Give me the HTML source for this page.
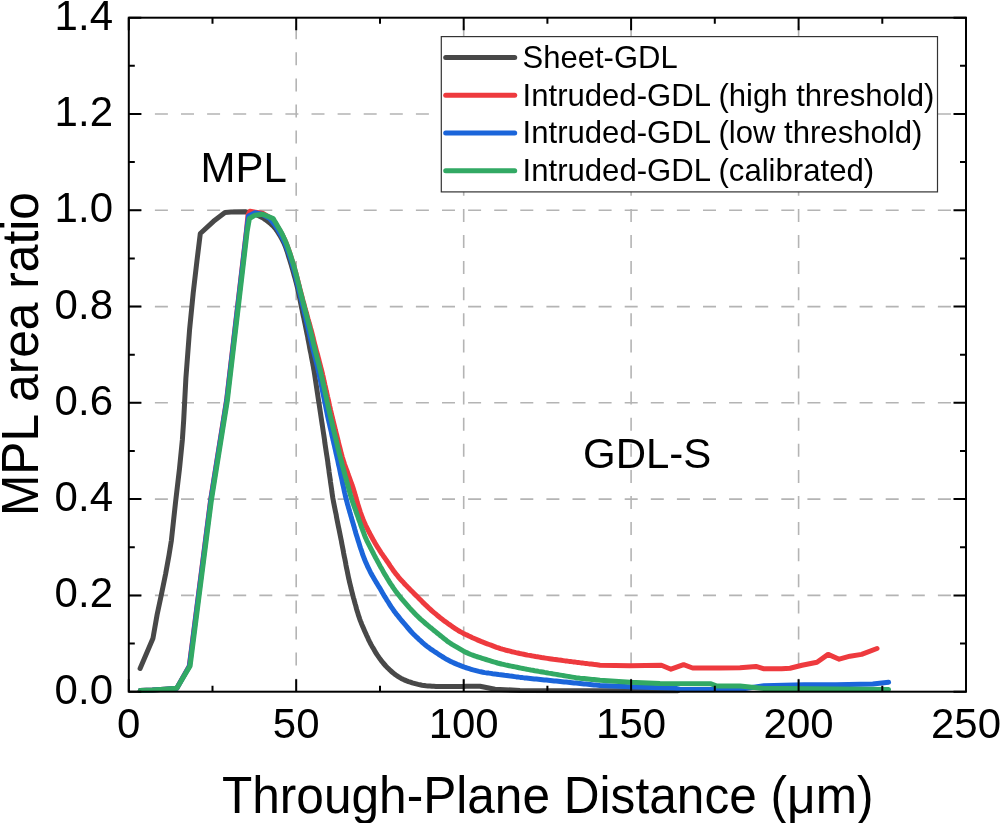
<!DOCTYPE html><html><head><meta charset="utf-8"><title>MPL area ratio</title><style>html,body{margin:0;padding:0;background:#fff;}svg{display:block;}</style></head><body>
<svg width="1000" height="823" viewBox="0 0 1000 823" font-family="'Liberation Sans', Arial, sans-serif">
<rect width="1000" height="823" fill="#fff"/>
<text x="200.5" y="181.8" font-size="43.26" textLength="86.36" lengthAdjust="spacingAndGlyphs">MPL</text>
<text x="583.0" y="468.2" font-size="43.26" textLength="128.36" lengthAdjust="spacingAndGlyphs">GDL-S</text>
<g stroke="#b4b4b4" stroke-width="1.6" stroke-dasharray="13 13.1" fill="none"><path d="M296.2 691.7V17.7"/><path d="M463.7 691.7V17.7"/><path d="M631.1 691.7V17.7"/><path d="M798.6 691.7V17.7"/><path d="M128.8 595.4H966.0"/><path d="M128.8 499.1H966.0"/><path d="M128.8 402.8H966.0"/><path d="M128.8 306.6H966.0"/><path d="M128.8 210.3H966.0"/><path d="M128.8 114.0H966.0"/></g>
<polyline points="140.1,668.4 152.9,638.6 157.1,614.8 161.4,594.4 165.6,574.0 169.0,555.3 171.4,540.3 175.6,501.7 179.5,468.6 182.4,439.5 183.7,420.0 185.9,378.0 189.6,329.4 193.2,292.9 196.9,261.3 200.3,233.5 213.5,221.3 225.0,212.4 231.0,212.0 246.0,211.8 251.0,213.2 256.0,214.6 262.0,217.4 263.7,218.5 265.3,219.6 266.9,220.8 268.5,222.0 270.1,223.2 271.6,224.6 273.0,225.9 274.3,227.4 275.6,228.9 276.7,230.5 277.8,232.2 278.9,233.9 279.9,235.6 280.9,237.3 281.9,239.1 282.8,240.8 283.7,242.6 284.5,244.4 285.3,246.3 286.0,248.2 286.6,250.1 287.3,252.0 287.9,253.9 288.4,255.8 289.0,257.7 289.6,259.6 290.2,261.5 290.8,263.4 291.4,265.4 291.9,267.3 292.5,269.2 293.0,271.1 293.6,273.1 294.1,275.0 294.6,276.9 295.2,278.9 295.7,280.8 296.2,282.7 296.7,284.7 297.2,286.6 297.7,288.6 298.1,290.5 298.5,292.5 298.9,294.4 299.3,296.4 299.7,298.3 300.1,300.3 300.5,302.3 300.9,304.2 301.3,306.2 301.7,308.2 302.1,310.1 302.5,312.1 302.9,314.1 303.3,316.0 303.8,318.0 304.2,319.9 304.6,321.9 305.0,323.8 305.4,325.8 305.8,327.8 306.2,329.7 306.6,331.7 307.0,333.7 307.4,335.6 307.8,337.6 308.1,339.6 308.5,341.5 308.9,343.5 309.3,345.5 309.6,347.4 310.0,349.4 310.4,351.4 310.8,353.3 311.2,355.3 311.5,357.3 311.9,359.2 312.3,361.2 312.7,363.2 313.0,365.1 313.4,367.1 313.7,369.1 314.1,371.1 314.4,373.0 314.7,375.0 315.0,377.0 315.3,379.0 315.6,381.0 315.9,382.9 316.2,384.9 316.5,386.9 316.8,388.9 317.1,390.9 317.4,392.8 317.7,394.8 318.0,396.8 318.3,398.8 318.6,400.8 318.9,402.7 319.2,404.7 319.5,406.7 319.8,408.7 320.1,410.7 320.4,412.6 320.7,414.6 321.0,416.6 321.3,418.6 321.6,420.6 321.9,422.6 322.2,424.5 322.5,426.5 322.8,428.5 323.1,430.5 323.4,432.5 323.7,434.4 324.0,436.4 324.3,438.4 324.6,440.4 324.8,442.4 325.1,444.4 325.4,446.3 325.7,448.3 326.0,450.3 326.3,452.3 326.6,454.3 326.9,456.2 327.2,458.2 327.5,460.2 327.8,462.2 328.0,464.2 328.3,466.2 328.6,468.1 328.9,470.1 329.1,472.1 329.4,474.1 329.7,476.1 330.0,478.1 330.3,480.0 330.5,482.0 330.8,484.0 331.1,486.0 331.4,488.0 331.7,490.0 331.9,491.9 332.2,493.9 332.5,495.9 332.8,497.9 333.2,499.9 333.5,501.8 333.9,503.8 334.3,505.8 334.7,507.7 335.1,509.7 335.5,511.7 335.9,513.6 336.3,515.6 336.6,517.6 337.0,519.5 337.4,521.5 337.8,523.4 338.2,525.4 338.6,527.4 339.0,529.3 339.4,531.3 339.8,533.3 340.2,535.2 340.6,537.2 341.0,539.2 341.4,541.1 341.7,543.1 342.1,545.1 342.5,547.0 342.9,549.0 343.3,551.0 343.6,552.9 344.0,554.9 344.4,556.9 344.8,558.8 345.2,560.8 345.6,562.8 345.9,564.7 346.3,566.7 346.7,568.7 347.1,570.6 347.5,572.6 347.9,574.6 348.3,576.5 348.7,578.5 349.2,580.4 349.6,582.4 350.1,584.3 350.6,586.3 351.0,588.2 351.5,590.1 352.0,592.1 352.5,594.0 353.0,596.0 353.5,597.9 354.1,599.8 354.6,601.8 355.1,603.7 355.7,605.6 356.2,607.6 356.7,609.5 357.3,611.4 357.9,613.3 358.4,615.2 359.1,617.1 359.7,619.0 360.4,620.9 361.2,622.8 361.9,624.6 362.7,626.5 363.5,628.3 364.3,630.2 365.1,632.0 365.9,633.8 366.7,635.6 367.6,637.4 368.4,639.3 369.3,641.1 370.2,642.8 371.1,644.6 372.1,646.4 373.1,648.1 374.1,649.8 375.1,651.6 376.2,653.3 377.2,654.9 378.4,656.6 379.5,658.2 380.7,659.8 381.9,661.4 383.2,663.0 384.5,664.5 385.8,666.0 387.2,667.4 388.6,668.8 390.0,670.2 391.5,671.5 393.0,672.8 394.6,674.1 396.2,675.2 397.9,676.4 399.5,677.4 401.2,678.4 403.0,679.3 404.8,680.1 406.7,680.9 408.5,681.6 410.4,682.2 412.3,682.9 414.2,683.4 416.2,683.9 418.1,684.4 420.0,684.8 422.0,685.2 424.0,685.5 426.0,685.8 428.0,686.0 429.9,686.1 431.9,686.3 433.9,686.3 435.9,686.4 437.9,686.4 439.9,686.4 441.9,686.4 443.9,686.4 445.9,686.4 447.9,686.4 450.0,686.4 452.0,686.4 454.0,686.4 456.0,686.4 458.0,686.4 460.0,686.4 462.0,686.4 464.0,686.4 466.0,686.3 468.0,686.3 470.0,686.3 472.0,686.3 474.0,686.3 476.0,686.2 478.0,686.2 480.0,686.2 495.0,689.2 520.0,690.5 678.0,690.8" fill="none" stroke="#484848" stroke-width="5" stroke-linejoin="round" stroke-linecap="round"/>
<polyline points="140.2,690.5 152.4,690.0 164.6,689.2 176.8,688.2 189.3,665.9 204.7,546.0 210.6,500.0 226.6,400.0 246.4,231.0 248.0,215.0 250.0,211.3 262.5,213.2 273.0,219.4 274.1,221.1 275.1,222.8 276.2,224.5 277.2,226.2 278.3,227.9 279.3,229.6 280.3,231.3 281.3,233.1 282.3,234.8 283.2,236.6 284.1,238.4 284.9,240.2 285.7,242.0 286.5,243.9 287.2,245.7 287.9,247.6 288.6,249.5 289.2,251.4 289.9,253.3 290.5,255.2 291.1,257.1 291.7,259.0 292.3,260.9 292.9,262.8 293.5,264.8 294.0,266.7 294.6,268.6 295.1,270.5 295.7,272.5 296.2,274.4 296.7,276.3 297.2,278.3 297.7,280.2 298.2,282.2 298.7,284.1 299.2,286.0 299.7,288.0 300.2,289.9 300.7,291.9 301.2,293.8 301.7,295.7 302.2,297.7 302.7,299.6 303.2,301.5 303.8,303.5 304.3,305.4 304.8,307.3 305.3,309.3 305.9,311.2 306.4,313.1 307.0,315.0 307.5,317.0 308.0,318.9 308.6,320.8 309.1,322.8 309.7,324.7 310.2,326.6 310.7,328.5 311.3,330.5 311.8,332.4 312.3,334.4 312.8,336.3 313.3,338.2 313.7,340.2 314.2,342.1 314.7,344.1 315.2,346.0 315.7,347.9 316.2,349.9 316.7,351.8 317.3,353.7 317.8,355.7 318.3,357.6 318.8,359.5 319.3,361.5 319.8,363.4 320.3,365.4 320.8,367.3 321.3,369.2 321.8,371.2 322.3,373.1 322.7,375.1 323.2,377.0 323.6,379.0 324.0,380.9 324.5,382.9 324.9,384.8 325.4,386.8 325.8,388.8 326.2,390.7 326.7,392.7 327.1,394.6 327.5,396.6 328.0,398.5 328.4,400.5 328.9,402.4 329.3,404.4 329.7,406.3 330.2,408.3 330.6,410.3 331.1,412.2 331.5,414.2 332.0,416.1 332.5,418.0 332.9,420.0 333.4,421.9 333.9,423.9 334.4,425.8 334.9,427.8 335.3,429.7 335.8,431.7 336.3,433.6 336.8,435.5 337.3,437.5 337.8,439.4 338.2,441.4 338.7,443.3 339.2,445.3 339.7,447.2 340.2,449.1 340.7,451.1 341.1,453.0 341.7,455.0 342.2,456.9 342.8,458.8 343.4,460.7 344.0,462.6 344.6,464.5 345.3,466.4 346.0,468.3 346.7,470.2 347.4,472.0 348.0,473.9 348.7,475.8 349.4,477.7 350.1,479.6 350.8,481.5 351.5,483.3 352.1,485.2 352.8,487.1 353.4,489.0 354.0,490.9 354.6,492.8 355.1,494.8 355.7,496.7 356.2,498.6 356.8,500.5 357.3,502.5 357.9,504.4 358.5,506.3 359.1,508.2 359.7,510.1 360.3,512.0 361.0,513.9 361.7,515.8 362.4,517.7 363.1,519.5 363.9,521.4 364.7,523.2 365.5,525.0 366.4,526.8 367.3,528.6 368.2,530.4 369.1,532.1 370.0,533.9 371.0,535.7 371.9,537.4 372.9,539.2 373.9,540.9 374.9,542.7 375.9,544.4 376.9,546.1 378.0,547.8 379.1,549.5 380.1,551.2 381.2,552.9 382.4,554.5 383.5,556.2 384.7,557.8 385.8,559.4 386.9,561.1 388.1,562.7 389.2,564.4 390.3,566.1 391.4,567.7 392.6,569.4 393.7,571.0 394.9,572.6 396.1,574.2 397.4,575.7 398.7,577.3 400.0,578.8 401.3,580.3 402.7,581.7 404.0,583.2 405.4,584.7 406.8,586.1 408.2,587.6 409.6,589.0 411.0,590.4 412.4,591.8 413.8,593.2 415.2,594.7 416.7,596.1 418.1,597.5 419.5,598.9 420.9,600.3 422.3,601.7 423.7,603.2 425.2,604.6 426.6,605.9 428.1,607.3 429.5,608.7 431.0,610.0 432.5,611.3 434.0,612.6 435.6,613.9 437.1,615.2 438.7,616.5 440.2,617.7 441.8,618.9 443.4,620.2 445.0,621.4 446.6,622.5 448.2,623.7 449.9,624.9 451.5,626.0 453.1,627.2 454.8,628.3 456.5,629.4 458.2,630.5 459.9,631.5 461.6,632.4 463.4,633.4 465.2,634.3 467.0,635.1 468.8,636.0 470.6,636.8 472.4,637.7 474.3,638.5 476.1,639.3 477.9,640.1 479.8,640.9 481.6,641.7 483.5,642.4 485.3,643.1 487.2,643.8 489.1,644.5 491.0,645.2 492.8,645.9 494.7,646.6 496.6,647.3 498.5,647.9 500.4,648.6 502.3,649.2 504.2,649.7 506.1,650.3 508.1,650.7 510.0,651.2 512.0,651.7 513.9,652.1 515.9,652.6 517.8,653.0 519.8,653.5 521.7,653.9 523.7,654.3 525.7,654.7 527.6,655.1 529.6,655.4 531.6,655.8 533.5,656.1 535.5,656.5 537.5,656.8 539.5,657.1 541.4,657.5 543.4,657.8 545.4,658.1 547.4,658.4 549.4,658.7 551.3,659.0 553.3,659.3 555.3,659.5 557.3,659.8 559.3,660.1 561.3,660.3 563.2,660.6 565.2,660.9 567.2,661.1 569.2,661.4 571.2,661.6 573.2,661.9 575.2,662.1 577.1,662.4 579.1,662.6 581.1,662.9 583.1,663.1 585.1,663.4 587.1,663.6 589.1,663.9 591.1,664.1 593.0,664.3 595.0,664.6 597.0,664.8 600.0,665.2 630.0,665.8 661.4,665.3 671.0,669.2 683.6,664.7 692.6,668.0 720.0,668.0 740.0,667.7 756.0,666.4 764.0,668.8 781.6,668.8 790.0,668.2 802.0,665.2 817.0,662.2 828.1,654.4 839.2,659.2 850.0,656.2 861.6,654.4 877.0,648.5" fill="none" stroke="#ee3a3e" stroke-width="5" stroke-linejoin="round" stroke-linecap="round"/>
<polyline points="140.2,690.5 152.4,690.0 164.6,689.2 176.8,688.2 189.5,665.9 204.9,546.0 210.8,500.0 226.8,400.0 246.6,231.0 248.5,216.0 255.0,212.7 262.5,214.5 269.5,218.3 270.8,219.8 272.1,221.4 273.3,222.9 274.5,224.5 275.6,226.2 276.7,227.8 277.8,229.5 278.8,231.2 279.8,233.0 280.8,234.7 281.7,236.5 282.6,238.2 283.5,240.0 284.4,241.8 285.2,243.7 285.9,245.5 286.6,247.4 287.3,249.3 288.0,251.1 288.7,253.0 289.4,254.9 290.0,256.8 290.6,258.7 291.2,260.6 291.8,262.5 292.4,264.4 292.9,266.4 293.5,268.3 294.0,270.2 294.6,272.1 295.1,274.1 295.6,276.0 296.1,277.9 296.5,279.9 297.0,281.8 297.5,283.8 298.0,285.7 298.5,287.7 298.9,289.6 299.4,291.5 299.9,293.5 300.4,295.4 300.8,297.4 301.3,299.3 301.8,301.3 302.2,303.2 302.7,305.2 303.2,307.1 303.6,309.0 304.1,311.0 304.5,312.9 305.0,314.9 305.5,316.8 305.9,318.8 306.4,320.7 306.8,322.7 307.3,324.6 307.7,326.6 308.2,328.5 308.7,330.5 309.1,332.4 309.6,334.4 310.0,336.3 310.5,338.3 310.9,340.2 311.4,342.2 311.8,344.1 312.3,346.0 312.8,348.0 313.2,349.9 313.7,351.9 314.2,353.8 314.7,355.8 315.2,357.7 315.7,359.6 316.2,361.6 316.6,363.5 317.1,365.5 317.6,367.4 318.0,369.3 318.5,371.3 318.9,373.3 319.3,375.2 319.7,377.2 320.1,379.1 320.5,381.1 320.9,383.1 321.3,385.0 321.7,387.0 322.1,388.9 322.5,390.9 322.9,392.9 323.3,394.8 323.7,396.8 324.1,398.7 324.5,400.7 324.9,402.7 325.3,404.6 325.7,406.6 326.1,408.5 326.5,410.5 326.9,412.5 327.3,414.4 327.7,416.4 328.1,418.3 328.6,420.3 329.0,422.2 329.5,424.2 329.9,426.1 330.4,428.1 330.8,430.0 331.3,432.0 331.7,433.9 332.1,435.9 332.6,437.8 333.0,439.8 333.5,441.7 333.9,443.7 334.4,445.6 334.8,447.6 335.3,449.5 335.7,451.5 336.1,453.4 336.6,455.4 337.0,457.3 337.5,459.3 337.9,461.2 338.3,463.2 338.7,465.2 339.2,467.1 339.6,469.1 340.0,471.0 340.4,473.0 340.8,474.9 341.3,476.9 341.7,478.8 342.1,480.8 342.5,482.8 342.9,484.7 343.4,486.7 343.8,488.6 344.2,490.6 344.6,492.5 345.1,494.5 345.5,496.4 346.0,498.4 346.5,500.3 347.0,502.2 347.5,504.2 348.1,506.1 348.6,508.0 349.2,509.9 349.7,511.9 350.3,513.8 350.8,515.7 351.4,517.6 351.9,519.5 352.5,521.5 353.1,523.4 353.6,525.3 354.2,527.2 354.7,529.2 355.3,531.1 355.8,533.0 356.4,534.9 357.0,536.8 357.6,538.7 358.2,540.7 358.8,542.6 359.4,544.5 360.0,546.4 360.6,548.3 361.3,550.2 361.9,552.1 362.5,554.0 363.2,555.8 363.9,557.7 364.6,559.6 365.4,561.4 366.2,563.3 367.0,565.1 367.8,566.9 368.7,568.7 369.6,570.5 370.5,572.3 371.4,574.0 372.4,575.8 373.4,577.5 374.4,579.2 375.4,580.9 376.4,582.7 377.5,584.4 378.5,586.1 379.6,587.8 380.6,589.5 381.6,591.2 382.6,593.0 383.6,594.7 384.6,596.4 385.7,598.1 386.7,599.8 387.8,601.5 388.9,603.2 389.9,604.9 391.0,606.6 392.1,608.2 393.3,609.9 394.4,611.5 395.6,613.1 396.8,614.7 398.1,616.2 399.4,617.8 400.6,619.3 401.9,620.8 403.2,622.4 404.5,623.9 405.8,625.4 407.1,627.0 408.4,628.5 409.7,630.0 411.0,631.5 412.4,633.0 413.8,634.4 415.2,635.8 416.6,637.2 418.1,638.5 419.5,639.9 421.0,641.2 422.5,642.6 424.0,643.9 425.6,645.2 427.1,646.4 428.7,647.6 430.3,648.8 432.0,649.9 433.6,651.0 435.3,652.1 437.0,653.2 438.6,654.3 440.3,655.4 442.0,656.5 443.7,657.5 445.4,658.6 447.1,659.6 448.9,660.5 450.7,661.4 452.5,662.3 454.3,663.1 456.1,663.9 458.0,664.7 459.8,665.4 461.7,666.1 463.6,666.8 465.4,667.5 467.3,668.1 469.2,668.7 471.1,669.3 473.1,669.9 475.0,670.4 476.9,670.9 478.9,671.4 480.8,671.8 482.8,672.2 484.7,672.6 486.7,672.9 488.7,673.1 490.7,673.4 492.6,673.7 494.6,673.9 496.6,674.2 498.6,674.5 500.6,674.7 502.6,675.0 504.5,675.3 506.5,675.5 508.5,675.8 510.5,676.1 512.5,676.3 514.5,676.6 516.4,676.9 518.4,677.1 520.4,677.4 522.4,677.6 524.4,677.9 526.4,678.1 528.3,678.3 530.3,678.5 532.3,678.7 534.3,678.9 536.3,679.1 538.3,679.3 540.3,679.5 542.3,679.7 544.3,679.9 546.3,680.1 548.2,680.3 550.2,680.5 552.2,680.7 554.2,680.9 556.2,681.1 558.2,681.3 560.2,681.5 562.2,681.7 564.2,681.9 566.2,682.1 568.2,682.3 570.1,682.5 572.1,682.7 574.1,682.9 576.1,683.1 578.1,683.3 580.1,683.5 582.1,683.7 584.1,683.9 586.1,684.1 588.1,684.3 590.0,684.5 592.0,684.7 594.0,684.9 596.0,685.1 598.0,685.3 600.0,685.5 630.0,686.7 675.0,688.2 680.0,689.5 740.0,689.3 764.0,685.8 804.0,684.8 836.0,684.8 872.8,684.0 888.6,682.2" fill="none" stroke="#1b65da" stroke-width="5" stroke-linejoin="round" stroke-linecap="round"/>
<polyline points="140.2,690.5 152.4,690.0 164.6,689.2 176.8,688.2 190.1,665.9 205.5,546.0 211.4,500.0 227.4,400.0 247.2,231.0 249.4,218.5 255.0,215.2 262.8,214.2 273.2,218.6 274.2,220.3 275.3,222.0 276.3,223.7 277.3,225.5 278.3,227.2 279.3,228.9 280.3,230.6 281.3,232.4 282.2,234.2 283.1,236.0 283.9,237.8 284.8,239.6 285.5,241.4 286.3,243.3 287.0,245.1 287.7,247.0 288.4,248.9 289.0,250.8 289.7,252.7 290.3,254.6 290.9,256.5 291.5,258.4 292.1,260.3 292.7,262.2 293.3,264.1 293.9,266.0 294.4,268.0 295.0,269.9 295.5,271.8 296.0,273.8 296.5,275.7 297.0,277.6 297.4,279.6 297.9,281.5 298.4,283.5 298.9,285.4 299.4,287.3 299.8,289.3 300.3,291.2 300.8,293.2 301.3,295.1 301.8,297.0 302.3,299.0 302.8,300.9 303.3,302.9 303.8,304.8 304.3,306.7 304.8,308.7 305.3,310.6 305.8,312.5 306.3,314.5 306.8,316.4 307.3,318.4 307.8,320.3 308.3,322.2 308.8,324.2 309.3,326.1 309.8,328.0 310.3,330.0 310.8,331.9 311.2,333.9 311.7,335.8 312.2,337.8 312.6,339.7 313.1,341.7 313.5,343.6 314.0,345.5 314.5,347.5 314.9,349.4 315.4,351.4 315.9,353.3 316.4,355.2 316.9,357.2 317.4,359.1 317.9,361.1 318.5,363.0 319.0,364.9 319.4,366.9 319.9,368.8 320.4,370.7 320.8,372.7 321.3,374.6 321.7,376.6 322.2,378.6 322.6,380.5 323.0,382.5 323.4,384.4 323.9,386.4 324.3,388.3 324.7,390.3 325.1,392.2 325.5,394.2 326.0,396.1 326.4,398.1 326.8,400.1 327.2,402.0 327.7,404.0 328.1,405.9 328.5,407.9 329.0,409.8 329.4,411.8 329.8,413.7 330.3,415.7 330.7,417.6 331.2,419.6 331.7,421.5 332.1,423.5 332.6,425.4 333.1,427.4 333.5,429.3 334.0,431.3 334.5,433.2 334.9,435.1 335.4,437.1 335.9,439.0 336.3,441.0 336.8,442.9 337.3,444.9 337.7,446.8 338.2,448.8 338.7,450.7 339.1,452.6 339.6,454.6 340.1,456.5 340.6,458.5 341.1,460.4 341.6,462.3 342.1,464.3 342.6,466.2 343.2,468.1 343.7,470.1 344.2,472.0 344.7,473.9 345.2,475.9 345.8,477.8 346.3,479.7 346.8,481.7 347.3,483.6 347.9,485.5 348.4,487.4 348.9,489.4 349.4,491.3 350.0,493.2 350.5,495.2 351.1,497.1 351.7,499.0 352.3,500.9 352.9,502.8 353.6,504.7 354.2,506.6 354.9,508.4 355.6,510.3 356.2,512.2 356.9,514.1 357.6,516.0 358.3,517.9 358.9,519.8 359.6,521.6 360.3,523.5 360.9,525.4 361.6,527.3 362.3,529.2 363.0,531.1 363.7,532.9 364.4,534.8 365.1,536.7 365.9,538.5 366.7,540.3 367.6,542.1 368.5,543.9 369.4,545.7 370.3,547.5 371.2,549.2 372.1,551.0 373.1,552.8 374.0,554.6 374.9,556.3 375.8,558.1 376.8,559.9 377.7,561.6 378.7,563.4 379.6,565.1 380.6,566.9 381.6,568.6 382.6,570.4 383.5,572.1 384.5,573.9 385.6,575.6 386.6,577.3 387.6,579.0 388.7,580.7 389.7,582.4 390.8,584.1 391.9,585.7 393.0,587.4 394.2,589.1 395.3,590.7 396.5,592.3 397.7,593.9 399.0,595.5 400.2,597.0 401.5,598.6 402.8,600.1 404.1,601.6 405.4,603.1 406.7,604.6 408.0,606.1 409.3,607.6 410.7,609.1 412.0,610.6 413.4,612.0 414.8,613.5 416.2,614.9 417.6,616.3 419.0,617.7 420.5,619.1 422.0,620.4 423.5,621.7 425.0,623.0 426.5,624.3 428.1,625.6 429.6,626.9 431.2,628.1 432.7,629.4 434.3,630.7 435.8,631.9 437.4,633.2 438.9,634.4 440.5,635.7 442.0,636.9 443.6,638.2 445.2,639.4 446.7,640.7 448.3,641.9 450.0,643.0 451.6,644.1 453.3,645.1 455.0,646.1 456.8,647.2 458.5,648.2 460.2,649.2 461.9,650.2 463.6,651.2 465.4,652.1 467.2,652.9 469.0,653.7 470.9,654.5 472.7,655.1 474.6,655.8 476.5,656.5 478.4,657.1 480.3,657.7 482.2,658.3 484.1,658.9 486.0,659.5 487.9,660.1 489.8,660.7 491.8,661.3 493.7,661.9 495.6,662.4 497.5,663.0 499.4,663.5 501.4,664.0 503.3,664.4 505.3,664.9 507.2,665.3 509.2,665.7 511.1,666.1 513.1,666.5 515.1,666.9 517.0,667.3 519.0,667.7 520.9,668.1 522.9,668.5 524.9,668.9 526.8,669.3 528.8,669.6 530.8,670.0 532.7,670.3 534.7,670.7 536.7,671.0 538.7,671.4 540.6,671.7 542.6,672.0 544.6,672.4 546.5,672.7 548.5,673.1 550.5,673.4 552.5,673.8 554.4,674.1 556.4,674.4 558.4,674.8 560.3,675.1 562.3,675.4 564.3,675.8 566.3,676.1 568.2,676.4 570.2,676.8 572.2,677.1 574.2,677.4 576.1,677.7 578.1,677.9 580.1,678.2 582.1,678.4 584.1,678.6 586.1,678.8 588.1,679.0 590.0,679.2 592.0,679.4 594.0,679.6 596.0,679.8 598.0,680.0 600.0,680.2 630.0,682.2 660.0,683.5 711.0,683.8 717.0,686.0 740.0,686.0 764.0,688.5 788.0,688.5 888.6,689.4" fill="none" stroke="#32a964" stroke-width="5" stroke-linejoin="round" stroke-linecap="round"/>
<path d="M128.8 691.7v-12.5M128.8 17.7v12.5M212.5 691.7v-6M212.5 17.7v6M296.2 691.7v-12.5M296.2 17.7v12.5M380.0 691.7v-6M380.0 17.7v6M463.7 691.7v-12.5M463.7 17.7v12.5M547.4 691.7v-6M547.4 17.7v6M631.1 691.7v-12.5M631.1 17.7v12.5M714.8 691.7v-6M714.8 17.7v6M798.6 691.7v-12.5M798.6 17.7v12.5M882.3 691.7v-6M882.3 17.7v6M966.0 691.7v-12.5M966.0 17.7v12.5M128.8 691.7h12.5M966.0 691.7h-12.5M128.8 643.6h6M966.0 643.6h-6M128.8 595.4h12.5M966.0 595.4h-12.5M128.8 547.3h6M966.0 547.3h-6M128.8 499.1h12.5M966.0 499.1h-12.5M128.8 451.0h6M966.0 451.0h-6M128.8 402.8h12.5M966.0 402.8h-12.5M128.8 354.7h6M966.0 354.7h-6M128.8 306.6h12.5M966.0 306.6h-12.5M128.8 258.4h6M966.0 258.4h-6M128.8 210.3h12.5M966.0 210.3h-12.5M128.8 162.1h6M966.0 162.1h-6M128.8 114.0h12.5M966.0 114.0h-12.5M128.8 65.8h6M966.0 65.8h-6M128.8 17.7h12.5M966.0 17.7h-12.5" stroke="#000" stroke-width="2" fill="none"/>
<rect x="128.8" y="17.7" width="837.2" height="674.0" fill="none" stroke="#000" stroke-width="2"/>
<text x="113.0" y="703.7" font-size="43.26" textLength="58.39" lengthAdjust="spacingAndGlyphs" text-anchor="end">0.0</text>
<text x="113.0" y="607.4" font-size="43.26" textLength="58.39" lengthAdjust="spacingAndGlyphs" text-anchor="end">0.2</text>
<text x="113.0" y="511.1" font-size="43.26" textLength="58.39" lengthAdjust="spacingAndGlyphs" text-anchor="end">0.4</text>
<text x="113.0" y="414.8" font-size="43.26" textLength="58.39" lengthAdjust="spacingAndGlyphs" text-anchor="end">0.6</text>
<text x="113.0" y="318.6" font-size="43.26" textLength="58.39" lengthAdjust="spacingAndGlyphs" text-anchor="end">0.8</text>
<text x="113.0" y="222.3" font-size="43.26" textLength="58.39" lengthAdjust="spacingAndGlyphs" text-anchor="end">1.0</text>
<text x="113.0" y="126.0" font-size="43.26" textLength="58.39" lengthAdjust="spacingAndGlyphs" text-anchor="end">1.2</text>
<text x="113.0" y="29.7" font-size="43.26" textLength="58.39" lengthAdjust="spacingAndGlyphs" text-anchor="end">1.4</text>
<text x="128.8" y="738.2" font-size="43.26" textLength="23.36" lengthAdjust="spacingAndGlyphs" text-anchor="middle">0</text>
<text x="296.2" y="738.2" font-size="43.26" textLength="46.72" lengthAdjust="spacingAndGlyphs" text-anchor="middle">50</text>
<text x="463.7" y="738.2" font-size="43.26" textLength="70.08" lengthAdjust="spacingAndGlyphs" text-anchor="middle">100</text>
<text x="631.1" y="738.2" font-size="43.26" textLength="70.08" lengthAdjust="spacingAndGlyphs" text-anchor="middle">150</text>
<text x="798.6" y="738.2" font-size="43.26" textLength="70.08" lengthAdjust="spacingAndGlyphs" text-anchor="middle">200</text>
<text x="966.0" y="738.2" font-size="43.26" textLength="70.08" lengthAdjust="spacingAndGlyphs" text-anchor="middle">250</text>
<text x="0.0" y="0.0" font-size="50.88" textLength="323.99" lengthAdjust="spacingAndGlyphs" transform="translate(37.6,516.1) rotate(-90)">MPL area ratio</text>
<text x="221.9" y="812.8" font-size="51.09" textLength="651.58" lengthAdjust="spacingAndGlyphs">Through-Plane Distance (μm)</text>
<rect x="441.3" y="36.6" width="496.2" height="155.3" fill="#fff" stroke="#333" stroke-width="1.2"/>
<line x1="445.7" y1="57.4" x2="514.7" y2="57.4" stroke="#484848" stroke-width="5" stroke-linecap="round"/>
<text x="522.6" y="67.8" font-size="31.93" textLength="155.08" lengthAdjust="spacingAndGlyphs">Sheet-GDL</text>
<line x1="445.7" y1="95.2" x2="514.7" y2="95.2" stroke="#ee3a3e" stroke-width="5" stroke-linecap="round"/>
<text x="522.6" y="105.5" font-size="31.93" textLength="411.82" lengthAdjust="spacingAndGlyphs">Intruded-GDL (high threshold)</text>
<line x1="445.7" y1="132.9" x2="514.7" y2="132.9" stroke="#1b65da" stroke-width="5" stroke-linecap="round"/>
<text x="522.6" y="143.2" font-size="31.93" textLength="399.73" lengthAdjust="spacingAndGlyphs">Intruded-GDL (low threshold)</text>
<line x1="445.7" y1="170.7" x2="514.7" y2="170.7" stroke="#32a964" stroke-width="5" stroke-linecap="round"/>
<text x="522.6" y="180.9" font-size="31.93" textLength="351.49" lengthAdjust="spacingAndGlyphs">Intruded-GDL (calibrated)</text>
</svg></body></html>
